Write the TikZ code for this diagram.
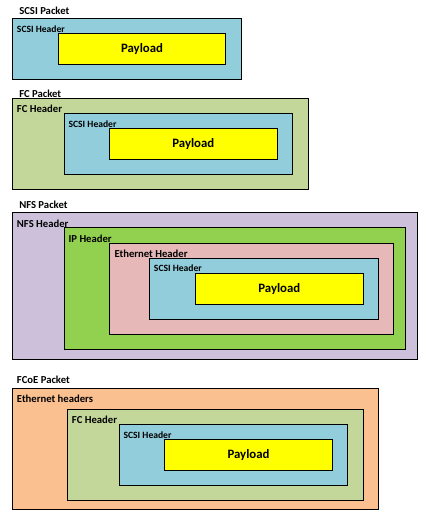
\documentclass[tikz,border=0pt]{standalone}
\usepackage{fontspec}
\setmainfont{Carlito}
\usetikzlibrary{positioning}
\definecolor{scsiblue}{RGB}{146,205,220}
\definecolor{fcgreen}{RGB}{196,215,155}
\definecolor{nfspurple}{RGB}{204,192,218}
\definecolor{ipgreen}{RGB}{146,208,80}
\definecolor{ethpink}{RGB}{230,184,183}
\definecolor{fcoeorange}{RGB}{250,192,144}
\definecolor{payyellow}{RGB}{255,255,0}
\tikzset{layer/.style = {draw=black, line width=0.9pt},
         title/.style = {anchor=west, inner sep=0pt, font=\bfseries\fontsize{8}{9}\selectfont},
         hdr/.style = {anchor=west, inner sep=0pt, font=\bfseries\fontsize{8}{9}\selectfont},
         scsihdr/.style = {anchor=west, inner sep=0pt, font=\bfseries\fontsize{7.2}{8}\selectfont},
         payload/.style = {inner sep=0pt, font=\bfseries\fontsize{9.6}{11}\selectfont}}

\begin{document}
\begin{tikzpicture}[x=0.75pt, y=-0.75pt]
    \useasboundingbox (0, 0) rectangle (429, 520);

    % SCSI packet
    \node [title] (scsiT) at (19, 10.7) {SCSI Packet};

    \draw [layer, fill=scsiblue] (12.3, 18.3) rectangle (241.3, 79.3);

    \node [scsihdr] (scsiH) at (16.7, 29) {SCSI Header};

    \draw [layer, fill=payyellow] (58.3, 33.3) rectangle (225.7, 64.3);

    \node [payload] (scsiP) at (142, 48.8) {Payload};

    % FC packet
    \node [title] (fcT) at (19, 93.7) {FC Packet};

    \draw [layer, fill=fcgreen] (12.3, 98.3) rectangle (308.3, 189.3);

    \node [hdr] (fcH) at (16.7, 108.7) {FC Header};

    \draw [layer, fill=scsiblue] (64.3, 113.3) rectangle (292.7, 174.3);

    \node [scsihdr] (fcscsiH) at (68.3, 124) {SCSI Header};

    \draw [layer, fill=payyellow] (109.3, 128.3) rectangle (277.3, 159.3);

    \node [payload] (fcP) at (193.3, 143.8) {Payload};

    % NFS packet
    \node [title] (nfsT) at (19, 204.7) {NFS Packet};

    \draw [layer, fill=nfspurple] (12.3, 212.3) rectangle (417.7, 359.3);

    \node [hdr] (nfsH) at (16.7, 223.7) {NFS Header};

    \draw [layer, fill=ipgreen] (64.3, 227.3) rectangle (405.7, 349.3);

    \node [hdr] (ipH) at (68.3, 238.7) {IP Header};

    \draw [layer, fill=ethpink] (109.3, 243.3) rectangle (393.7, 334.3);

    \node [hdr] (ethH) at (114.3, 254) {Ethernet Header};

    \draw [layer, fill=scsiblue] (149.3, 258.3) rectangle (378.7, 319.3);

    \node [scsihdr] (nfsscsiH) at (153.7, 267.7) {SCSI Header};

    \draw [layer, fill=payyellow] (195.3, 273.3) rectangle (363.3, 304.3);

    \node [payload] (nfsP) at (279.3, 288.8) {Payload};

    % FCoE packet
    \node [title] (fcoeT) at (16.7, 380) {FCoE Packet};

    \draw [layer, fill=fcoeorange] (12.3, 388.3) rectangle (378.7, 509.3);

    \node [hdr] (fcoeethH) at (16.7, 398.7) {Ethernet headers};

    \draw [layer, fill=fcgreen] (67.3, 409.3) rectangle (363.3, 500.3);

    \node [hdr] (fcoefcH) at (71.7, 419.7) {FC Header};

    \draw [layer, fill=scsiblue] (119.3, 424.3) rectangle (347.7, 485.3);

    \node [scsihdr] (fcoescsiH) at (123.3, 435.3) {SCSI Header};

    \draw [layer, fill=payyellow] (164.3, 439.3) rectangle (332.7, 470.3);

    \node [payload] (fcoeP) at (248.5, 454.8) {Payload};
\end{tikzpicture}
\end{document}
